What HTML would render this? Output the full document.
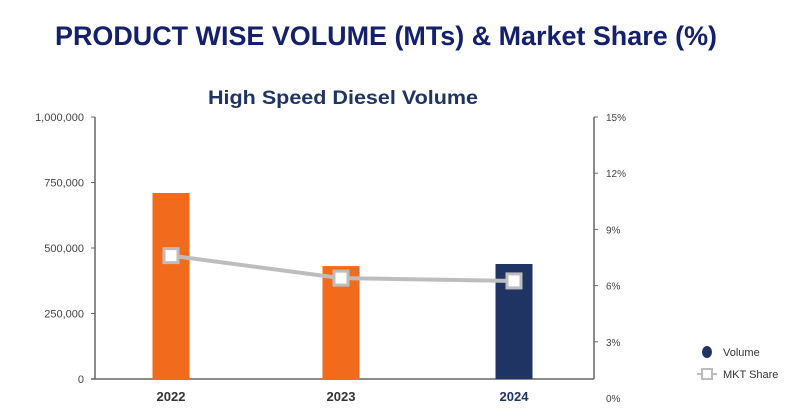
<!DOCTYPE html>
<html><head><meta charset="utf-8"><style>
html,body{margin:0;padding:0;background:#fff;width:800px;height:417px;overflow:hidden;font-family:"Liberation Sans",sans-serif}
</style></head><body>
<svg id="chart" width="800" height="417" xmlns="http://www.w3.org/2000/svg">
<text x="55" y="45" font-size="27" font-weight="bold" fill="#14206b" textLength="662" lengthAdjust="spacingAndGlyphs">PRODUCT WISE VOLUME (MTs) &amp; Market Share (%)</text>
<text x="343" y="104" font-size="19" font-weight="bold" fill="#1f3463" text-anchor="middle" textLength="270" lengthAdjust="spacingAndGlyphs">High Speed Diesel Volume</text>
<g id="plot"></g>
</svg>
<script>
const categories = ["2022", "2023", "2024"];
const volumes = [710000, 431000, 439000];
const shares = [7.6, 6.4, 6.25];
const leftTicks = [0, 250000, 500000, 750000, 1000000];
const leftTickLabels = ["0", "250,000", "500,000", "750,000", "1,000,000"];
const rightTicks = [0, 3, 6, 9, 12, 15];
const rightTickLabels = ["0%", "3%", "6%", "9%", "12%", "15%"];
const barColors = ["#f26a1b", "#f26a1b", "#1f3463"];

const NS = "http://www.w3.org/2000/svg";
const g = document.getElementById("plot");
const xL = 95, xR = 594;
const yV = v => 379 - v / 1000000 * 262;
const yS = s => 398 - s / 15 * 281;
const xC = i => [171, 341, 514][i];
function mk(tag, attrs, parent) {
  const e = document.createElementNS(NS, tag);
  for (const k in attrs) e.setAttribute(k, attrs[k]);
  (parent || g).appendChild(e);
  return e;
}
// axes
let a = mk("line", {x1: xL, y1: 117, x2: xL, y2: 379, stroke: "#666", "stroke-width": 1.5});


a = mk("line", {x1: xR, y1: 117, x2: xR, y2: 379, stroke: "#666", "stroke-width": 1.5});


a = mk("line", {x1: xL - 4, y1: 379, x2: xR, y2: 379, stroke: "#666", "stroke-width": 1.5});


leftTicks.forEach((v, i) => {
  const y = yV(v);
  mk("line", {x1: xL - 4, y1: y, x2: xL, y2: y, stroke: "#666"});
  const t = mk("text", {x: xL - 11, y: y + 4, "font-size": 11, fill: "#444", "text-anchor": "end"});
  t.textContent = leftTickLabels[i];
  
  
});
rightTicks.forEach((v, i) => {
  const y = yS(v);
  if (y <= 380) mk("line", {x1: xR, y1: y, x2: xR + 4, y2: y, stroke: "#666"});
  const t = mk("text", {x: xR + 12, y: y + 4, "font-size": 10, fill: "#444"});
  t.textContent = rightTickLabels[i];
  
  
});
categories.forEach((c, i) => {
  const y = yV(volumes[i]);
  const b = mk("rect", {x: xC(i) - 18.5, y: y, width: 37, height: 379 - y, fill: barColors[i]});
  
  
  const t = mk("text", {x: xC(i), y: 401, "font-size": 13, "font-weight": "bold", fill: i === 2 ? "#1f3463" : "#333", "text-anchor": "middle"});
  t.textContent = c;
  
  
});
const pts = shares.map((s, i) => xC(i) + "," + yS(s)).join(" ");
const ln = mk("polyline", {points: pts, fill: "none", stroke: "#bdbdbd", "stroke-width": 4});


shares.forEach((s, i) => {
  const m = mk("rect", {x: xC(i) - 7, y: yS(s) - 7, width: 14, height: 14, fill: "#fff", stroke: "#bdbdbd", "stroke-width": 3});
  
  
});
// legend
const lg = mk("g", {});


mk("ellipse", {cx: 707, cy: 352, rx: 5, ry: 6, fill: "#1f3463"}, lg);
let lt = mk("text", {x: 723, y: 356, "font-size": 11, fill: "#333"}, lg);
lt.textContent = "Volume";


mk("line", {x1: 697, y1: 374, x2: 717, y2: 374, stroke: "#bdbdbd", "stroke-width": 2}, lg);
mk("rect", {x: 702, y: 369, width: 10, height: 10, fill: "#fff", stroke: "#bdbdbd", "stroke-width": 2}, lg);
lt = mk("text", {x: 723, y: 378, "font-size": 11, fill: "#333"}, lg);
lt.textContent = "MKT Share";


</script>
</body></html>
